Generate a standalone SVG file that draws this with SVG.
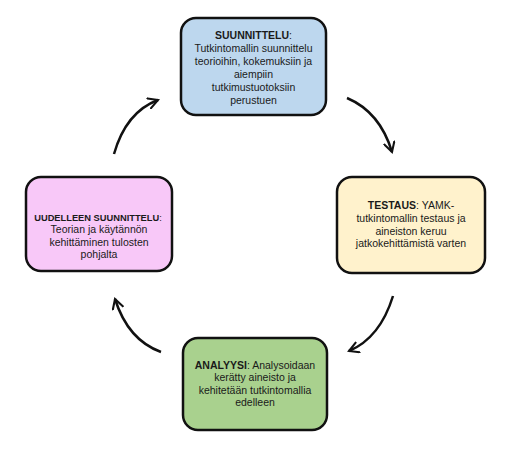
<svg xmlns="http://www.w3.org/2000/svg" width="506" height="449" viewBox="0 0 506 449">
<defs>
<marker id="ah" viewBox="0 0 12 12" refX="10" refY="6" markerWidth="5" markerHeight="5" orient="auto" markerUnits="strokeWidth">
<path d="M1,1 L10,6 L1,11" fill="none" stroke="#111" stroke-width="2" stroke-linecap="round" stroke-linejoin="miter"/>
</marker>
</defs>
<style>
.box{stroke:#111;stroke-width:2.5}
.t{font-family:"Liberation Sans",Arial,sans-serif;font-size:10.5px;fill:#1a1a1a;text-anchor:middle}
.b{font-weight:bold}
.arr{fill:none;stroke:#111;stroke-width:2.5;marker-end:url(#ah)}
</style>
<rect width="506" height="449" fill="#fff"/>
<g id="connectors">
<path class="arr" d="M347,98 Q380,112 392,152"/>
<path class="arr" d="M393,296 Q380,338 349,351"/>
<path class="arr" d="M161,352 Q128,340 115,299"/>
<path class="arr" d="M114,154 Q126,112 158,100"/>
</g>
<g id="suunnittelu">
<rect class="box" x="181" y="18" width="145" height="97" rx="15" fill="#bdd7ee"/>
<text class="t" x="253.5" y="39"><tspan class="b">SUUNNITTELU</tspan>:</text>
<text class="t" x="253.5" y="52">Tutkintomallin suunnittelu</text>
<text class="t" x="253.5" y="65">teorioihin, kokemuksiin ja</text>
<text class="t" x="253.5" y="78">aiempiin</text>
<text class="t" x="253.5" y="91">tutkimustuotoksiin</text>
<text class="t" x="253.5" y="104">perustuen</text>
</g>
<g id="testaus">
<rect class="box" x="337" y="177" width="148" height="96" rx="15" fill="#fff2cc"/>
<text class="t" x="411" y="209"><tspan class="b">TESTAUS</tspan>: YAMK-</text>
<text class="t" x="411" y="222">tutkintomallin testaus ja</text>
<text class="t" x="411" y="235">aineiston keruu</text>
<text class="t" x="411" y="247">jatkokehittämistä varten</text>
</g>
<g id="analyysi">
<rect class="box" x="183" y="338" width="144" height="92" rx="15" fill="#a9d18e"/>
<text class="t" x="255" y="369"><tspan class="b">ANALYYSI</tspan>: Analysoidaan</text>
<text class="t" x="255" y="381">kerätty aineisto ja</text>
<text class="t" x="255" y="394">kehitetään tutkintomallia</text>
<text class="t" x="255" y="406">edelleen</text>
</g>
<g id="uudelleen">
<rect class="box" x="26" y="177" width="146" height="94" rx="15" fill="#f8c8f8"/>
<text class="t" x="98" y="221" style="font-size:9.3px"><tspan class="b">UUDELLEEN SUUNNITTELU</tspan>:</text>
<text class="t" x="99" y="233">Teorian ja käytännön</text>
<text class="t" x="99" y="246">kehittäminen tulosten</text>
<text class="t" x="99" y="258">pohjalta</text>
</g>
</svg>
